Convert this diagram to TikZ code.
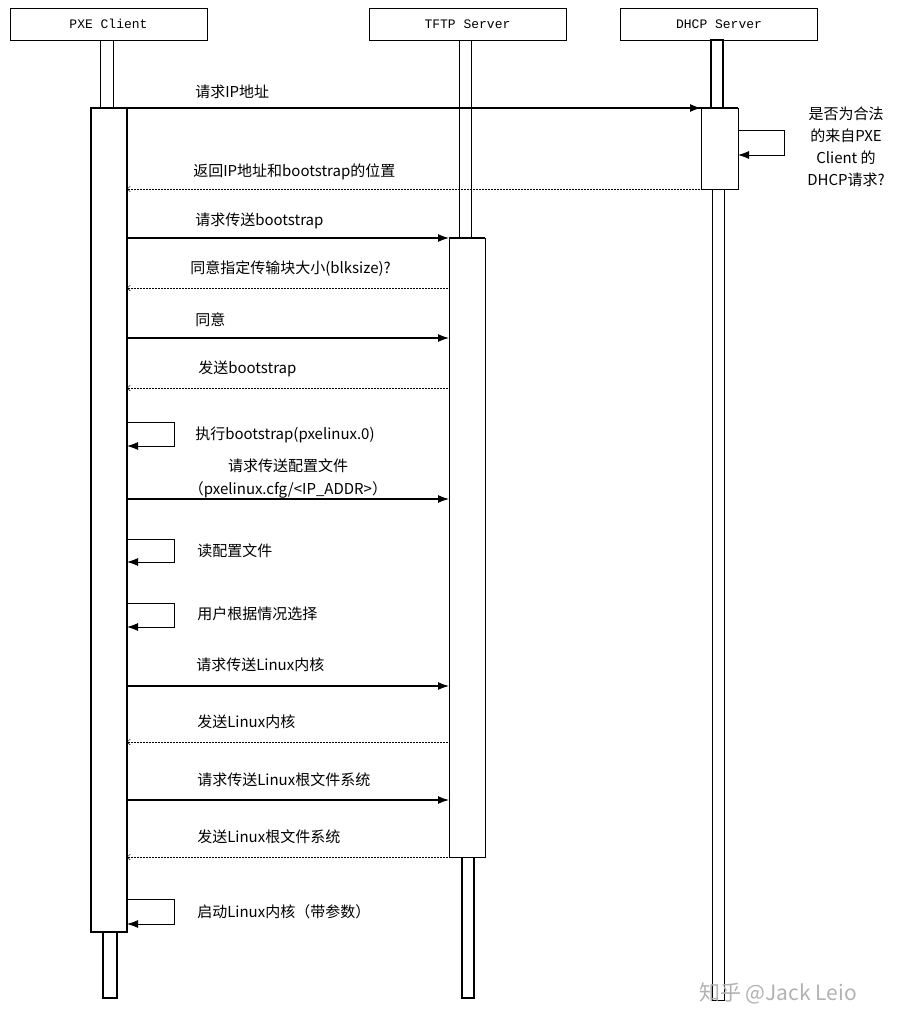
\documentclass[tikz,border=0pt]{standalone}
\usepackage{fontspec}
\setmainfont{Noto Sans CJK SC}
\newfontfamily\monofnt{Liberation Mono}
\usetikzlibrary{positioning, arrows.meta}

\begin{document}
\begin{tikzpicture}[
    x=1pt, y=-1pt,
    font=\fontsize{15}{17}\selectfont,
    line width=0.6pt
]

    % Global styles
    \tikzset{
        head/.style={draw, minimum width=197pt, minimum height=32pt, font=\monofnt\fontsize{13}{15}\selectfont},
        call/.style={line width=1.1pt, -{Latex[length=11pt, width=8pt]}},
        reply/.style={densely dotted, line width=0.5pt, -{Straight Barb[length=3pt, width=6pt]}},
        self/.style={line width=0.9pt, -{Latex[length=11pt, width=8pt]}},
        lbl/.style={anchor=west, inner sep=0pt}
    }

    \useasboundingbox (0,0) rectangle (903,1030);

    % Heads
    \node[head] (pxe)  at (108.5, 24) {PXE Client};
    \node[head] (tftp) at (467.5, 24) {TFTP Server};
    \node[head] (dhcp) at (719, 24) {DHCP Server};

    % Lifelines
    \draw (100, 40) rectangle (113, 108);
    \draw[line width=1.2pt] (103, 932) rectangle (117, 998);
    \draw (459, 40) rectangle (471, 238);
    \draw[line width=1.2pt] (462, 857) rectangle (474, 998);
    \draw[line width=1.2pt] (711, 40) rectangle (723, 108);
    \draw (712, 189) rectangle (724, 1000);

    % Activations
    \draw[line width=1.2pt, fill=white] (91, 108) rectangle (127, 932);
    \draw[fill=white] (449, 238) rectangle (485, 857);
    \draw[fill=white] (701, 108) rectangle (738, 189);
    \draw[line width=1.2pt] (91, 108) -- (738, 108);
    \draw[line width=1.2pt] (449, 238) -- (485, 238);

    % Anchor points
    \coordinate (c1) at (91, 108);   \coordinate (d1) at (701, 108);
    \coordinate (d2) at (701, 189);  \coordinate (c2) at (127, 189);
    \foreach \n/\y in {3/238, 4/288, 5/338, 6/388, 7/499, 8/686, 9/742, 10/800, 11/857} {
        \coordinate (c\n) at (127, \y);
        \coordinate (t\n) at (449, \y);
    }

    % Messages
    \draw[call]  (c1) -- (d1);
    \node[lbl] (m1) at (195, 92) {请求IP地址};
    \draw[self]  (738, 130) -- (784, 130) -- (784, 155) -- (738, 155);
    \node[align=center, inner sep=0pt, font=\fontsize{15}{22}\selectfont] (note) at (846, 147) {是否为合法\\的来自PXE\\Client 的\\DHCP请求?};
    \draw[reply] (d2) -- (c2);
    \node[lbl] (m2) at (193, 172) {返回IP地址和bootstrap的位置};

    \draw[call]  (c3) -- (t3);
    \node[lbl] (m3) at (195, 221) {请求传送bootstrap};
    \draw[reply] (t4) -- (c4);
    \node[lbl] (m4) at (190, 269) {同意指定传输块大小(blksize)?};
    \draw[call]  (c5) -- (t5);
    \node[lbl] (m5) at (195, 320) {同意};
    \draw[reply] (t6) -- (c6);
    \node[lbl] (m6) at (198, 369) {发送bootstrap};

    \draw[self]  (127, 422) -- (174, 422) -- (174, 446) -- (127, 446);
    \node[lbl] (m7) at (195, 435) {执行bootstrap(pxelinux.0)};

    \draw[call]  (c7) -- (t7);
    \node[align=center, inner sep=0pt, font=\fontsize{15}{23}\selectfont] (m8) at (288, 479) {请求传送配置文件\\（pxelinux.cfg/<IP\_ADDR>）};

    \draw[self]  (127, 539) -- (174, 539) -- (174, 562) -- (127, 562);
    \node[lbl] (m9) at (197, 551) {读配置文件};
    \draw[self]  (127, 603) -- (174, 603) -- (174, 627) -- (127, 627);
    \node[lbl] (m10) at (197, 614) {用户根据情况选择};

    \draw[call]  (c8) -- (t8);
    \node[lbl] (m11) at (196, 665) {请求传送Linux内核};
    \draw[reply] (t9) -- (c9);
    \node[lbl] (m12) at (197, 722) {发送Linux内核};
    \draw[call]  (c10) -- (t10);
    \node[lbl] (m13) at (197, 780) {请求传送Linux根文件系统};
    \draw[reply] (t11) -- (c11);
    \node[lbl] (m14) at (197, 837) {发送Linux根文件系统};

    \draw[self]  (127, 899) -- (174, 899) -- (174, 924) -- (127, 924);
    \node[lbl] (m15) at (197, 912) {启动Linux内核（带参数）};

    % Watermark
    \node[gray!60, font=\fontsize{21}{23}\selectfont] (wm) at (778, 993) {知乎 @Jack Leio};

\end{tikzpicture}
\end{document}
